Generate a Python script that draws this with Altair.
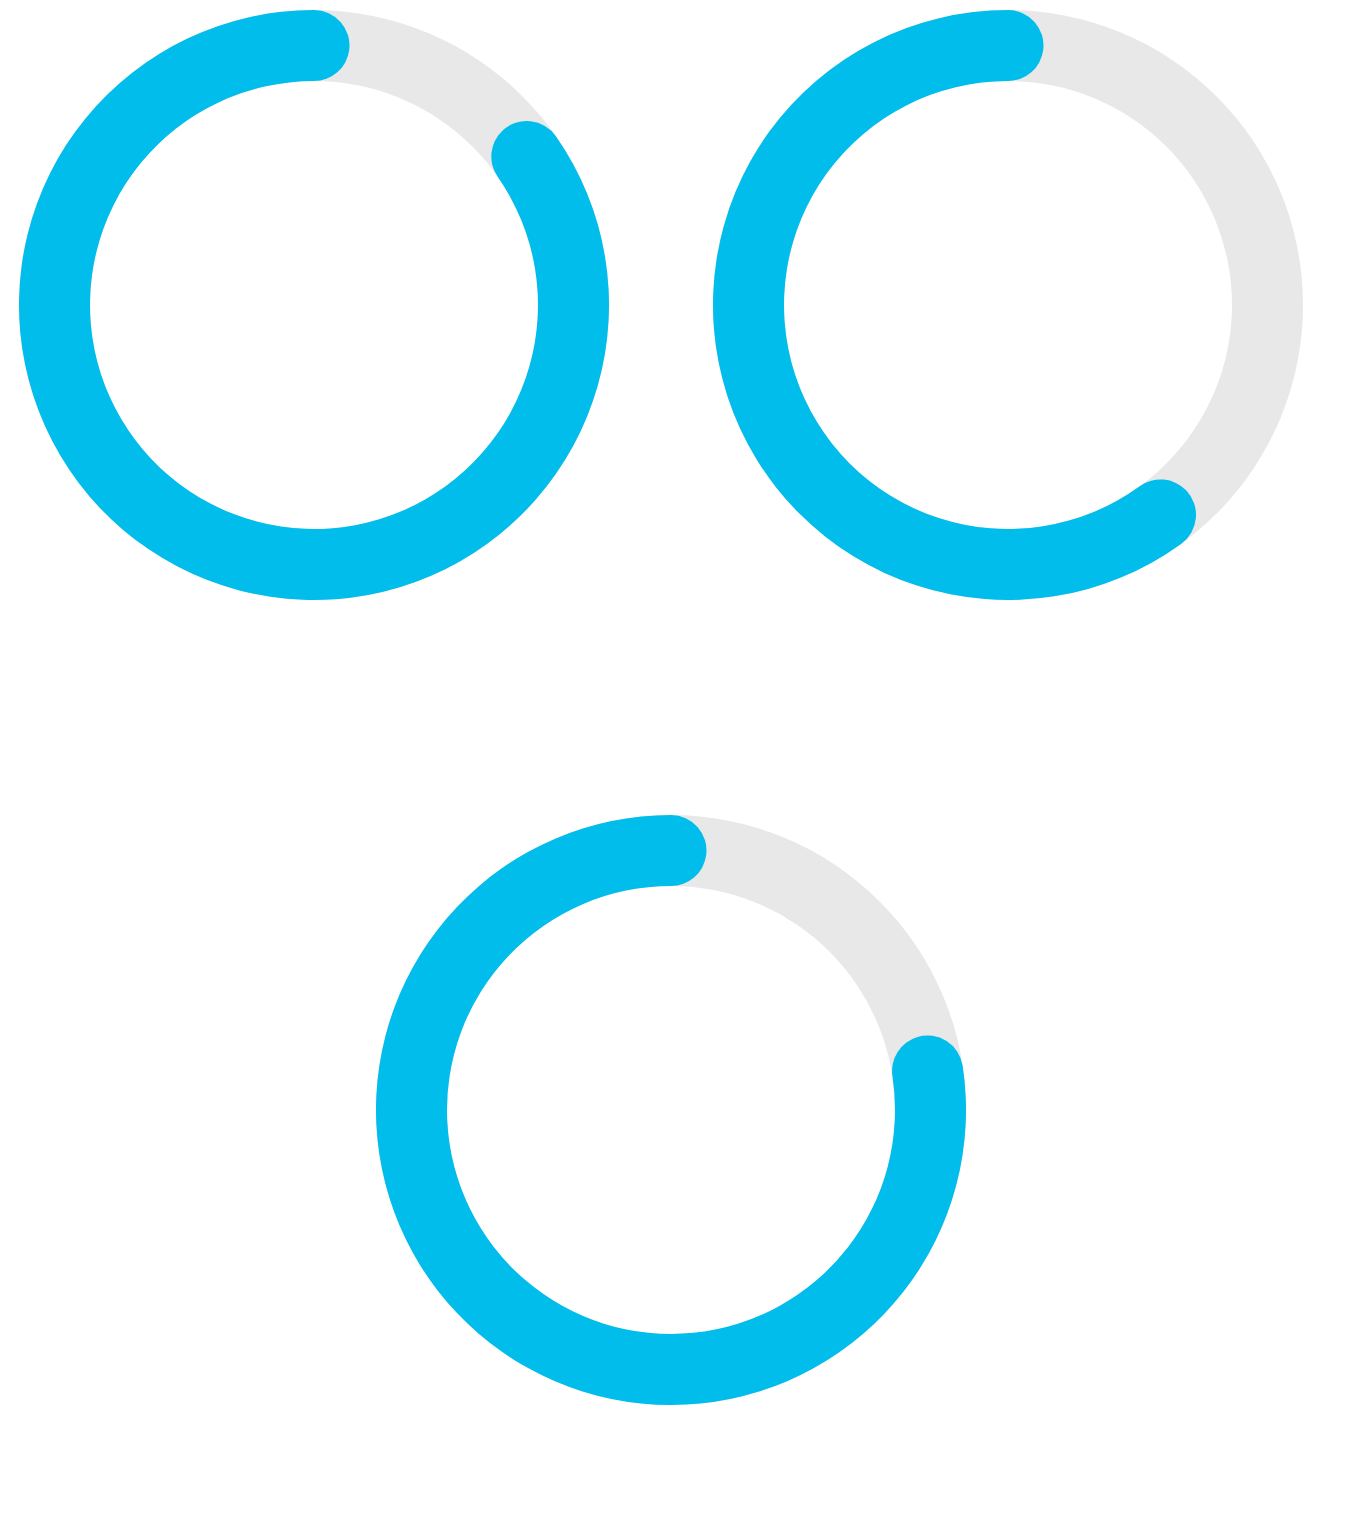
import math
import altair as alt
import pandas as pd

# Gauge data (percent complete, drawn counter-clockwise from 12 o'clock)
gauge_names = ["Gauge 1", "Gauge 2", "Gauge 3"]
gauge_values = [84.7, 60, 77.4]

BLUE = "#00BDEB"
GRAY = "#E8E8E8"
OUTER = 295
INNER = 224
THICK = OUTER - INNER
CAP = THICK / 2
MID = (OUTER + INNER) / 2
# angular extension (in percent units) so the rounded caps are centred on the value ends
cap_pct = math.degrees(math.asin(CAP / MID)) / 360 * 100

theta_scale = alt.Scale(domain=[0, 100], range=[0, 2 * math.pi])


def gauge(name, value, width, height):
    track = pd.DataFrame({"name": [name], "start": [0], "end": [100]})
    prog = pd.DataFrame({
        "name": [name],
        "value": [value],
        "start": [100 - value - cap_pct],
        "end": [100 + cap_pct],
    })
    t = alt.Chart(track).mark_arc(radius=OUTER, radius2=INNER, color=GRAY).encode(
        theta=alt.Theta("start:Q", scale=theta_scale, stack=None),
        theta2="end:Q",
    )
    p = alt.Chart(prog).mark_arc(radius=OUTER, radius2=INNER, color=BLUE,
                                 cornerRadius=CAP).encode(
        theta=alt.Theta("start:Q", scale=theta_scale, stack=None),
        theta2="end:Q",
        tooltip=["name:N", "value:Q"],
    )
    return alt.layer(t, p).properties(width=width, height=height)


top = alt.hconcat(
    gauge(gauge_names[0], gauge_values[0], 612, 594),
    gauge(gauge_names[1], gauge_values[1], 612, 594),
    spacing=82,
)
bottom = gauge(gauge_names[2], gauge_values[2], 1326, 594)

chart = alt.vconcat(top, bottom, spacing=211).properties(padding=0).configure_view(
    stroke=None
)

chart.save("out.html", embed_options={"renderer": "svg", "actions": False})
